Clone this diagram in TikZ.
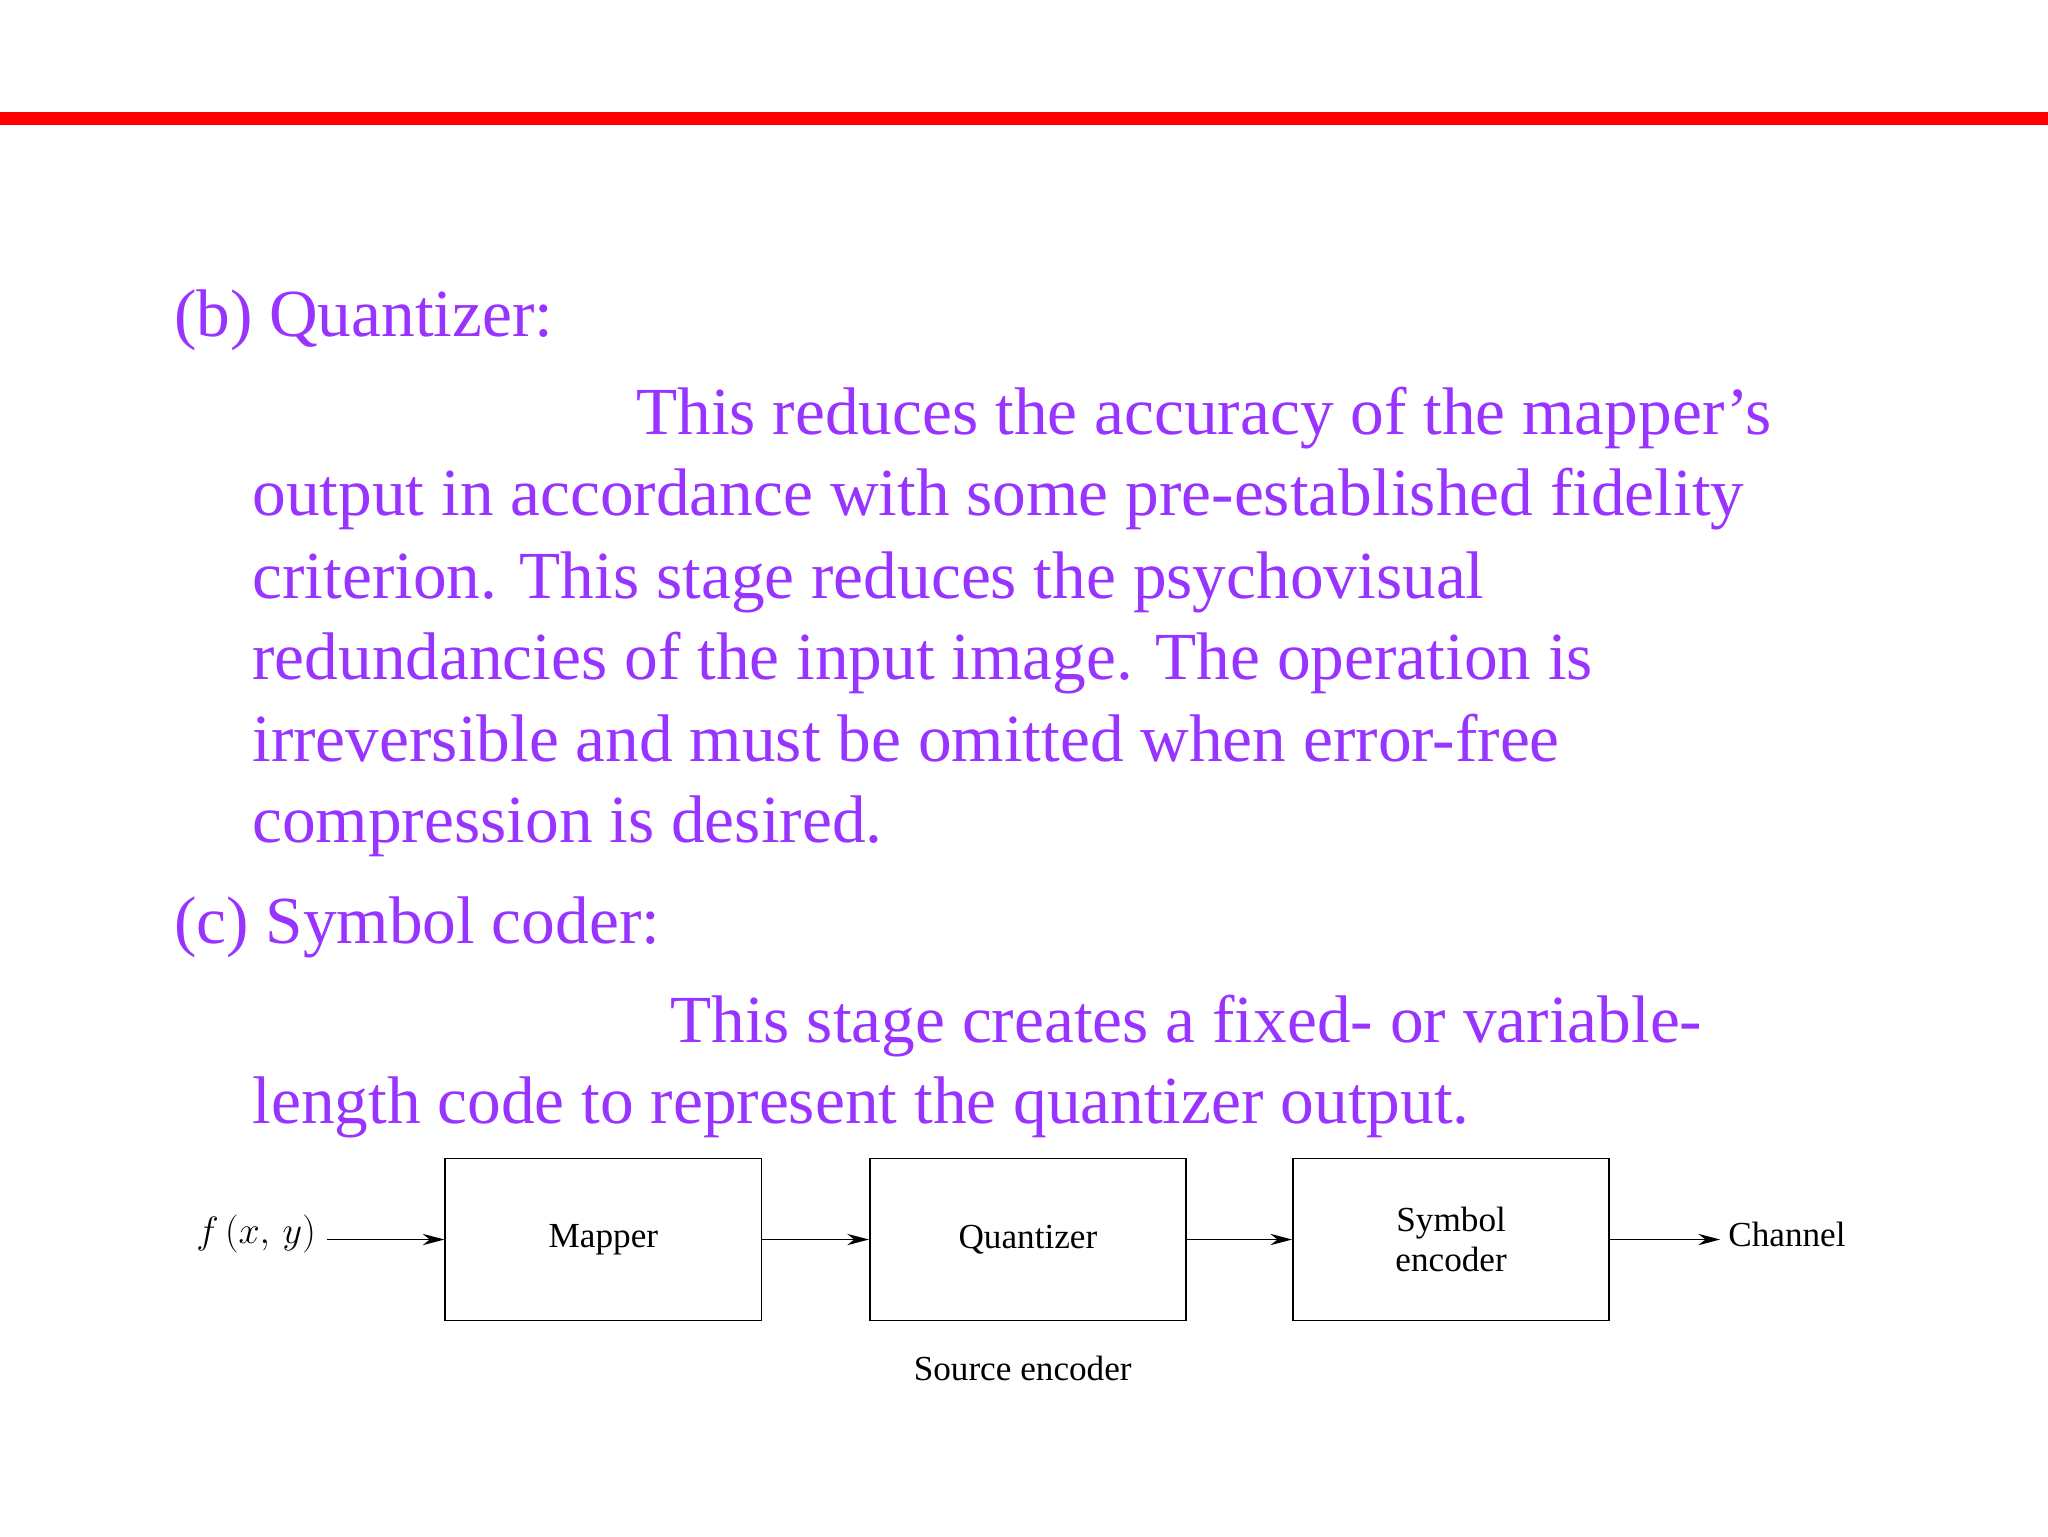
\documentclass[tikz,border=0pt]{standalone}
\usepackage{fontspec}
\setmainfont{Liberation Serif}
\usetikzlibrary{arrows.meta}
\definecolor{txtpurple}{RGB}{153,51,255}
\definecolor{barred}{RGB}{255,0,0}
\begin{document}
\begin{tikzpicture}[x=0.3mm,y=-0.3mm,
  body/.style={anchor=base west,inner sep=0pt,text=txtpurple,font=\fontsize{44}{52}\selectfont},
  blk/.style={draw,line width=1.2pt,minimum width=242*0.3mm,minimum height=124*0.3mm,inner sep=0pt,font=\fontsize{23}{26}\selectfont,align=center},
  lbl/.style={inner sep=0pt,font=\fontsize{23}{26}\selectfont},
  arr/.style={line width=1pt,-{Stealth[length=5mm,width=2.6mm]}}]
\useasboundingbox (0,0) rectangle (1568,1176);
\fill[white] (0,0) rectangle (1568,1176);
\fill[barred] (0,86) rectangle (1568,96);
\node[body] (b) at (133,258) {(b) Quantizer:};
\node[body] (l1) at (487,333) {This reduces the accuracy of the mapper’s};
\node[body] (l2) at (193,395) {output in accordance with some pre-established fidelity};
\node[body] (l3) at (193,458) {criterion. This stage reduces the psychovisual};
\node[body] (l4) at (193,520) {redundancies of the input image. The operation is};
\node[body] (l5) at (193,583) {irreversible and must be omitted when error-free};
\node[body] (l6) at (193,645) {compression is desired.};
\node[body] (c) at (133,722) {(c) Symbol coder:};
\node[body] (m1) at (513,798) {This stage creates a fixed- or variable-};
\node[body] (m2) at (193,860) {length code to represent the quantizer output.};
\node[blk] (map) at (462,949) {Mapper};
\node[blk] (qua) at (787,949) {Quantizer};
\node[blk] (sym) at (1111,949) {Symbol\\encoder};
\node[lbl,anchor=east] (f) at (242,945) {$f\,(x,\,y)$};
\node[lbl,anchor=west] (ch) at (1323,945) {Channel};
\node[lbl] (se) at (783,1048) {Source encoder};
\coordinate (fin) at (250,949);
\coordinate (chout) at (1317,949);
\draw[arr] (fin) -- (map.west);
\draw[arr] (map.east) -- (qua.west);
\draw[arr] (qua.east) -- (sym.west);
\draw[arr] (sym.east) -- (chout);
\end{tikzpicture}
\end{document}
